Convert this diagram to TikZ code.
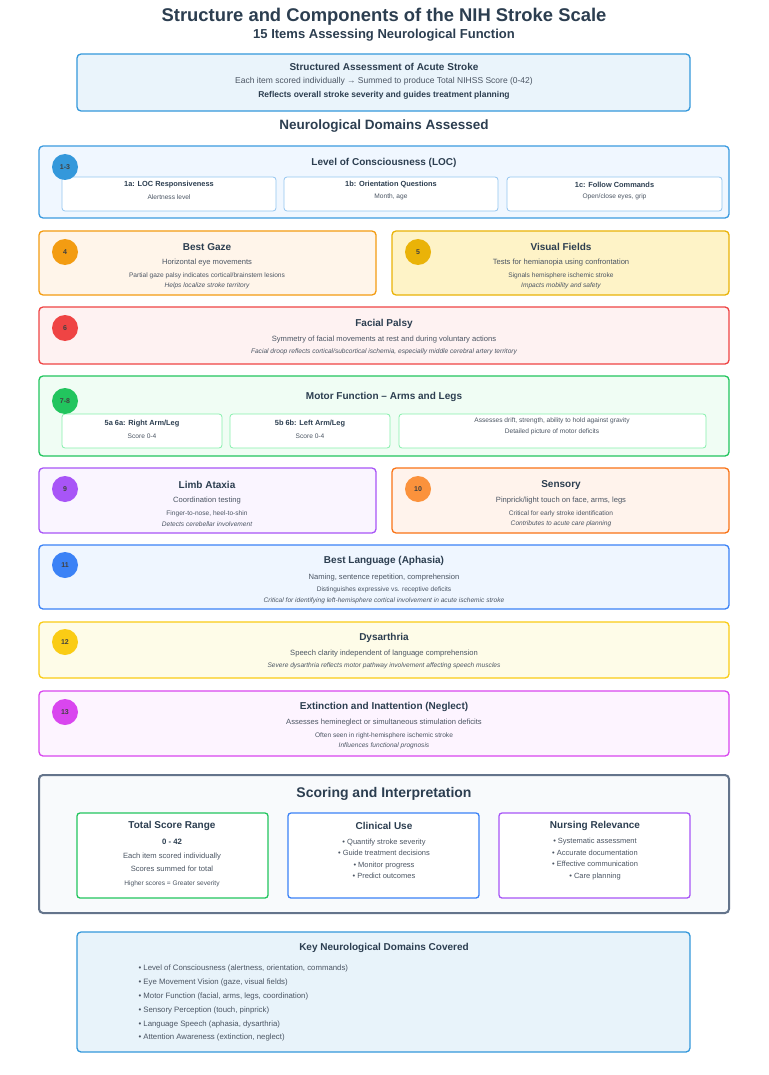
\documentclass[tikz,border=0pt]{standalone}
\usepackage{fontspec}
\setmainfont{Liberation Sans}
\definecolor{tdark}{HTML}{2C3E50}\definecolor{tgray}{HTML}{4B5563}
\definecolor{cA}{HTML}{3498DB}\definecolor{cB}{HTML}{3B9BE0}\definecolor{cBl}{HTML}{93C5F0}
\definecolor{cOr}{HTML}{F39C12}\definecolor{cYe}{HTML}{EAB308}\definecolor{cRe}{HTML}{EF4444}
\definecolor{cGr}{HTML}{22C55E}\definecolor{cGl}{HTML}{86EFAC}\definecolor{cPu}{HTML}{A855F7}
\definecolor{cOa}{HTML}{F97316}\definecolor{cOb}{HTML}{FB923C}\definecolor{cBu}{HTML}{3B82F6}
\definecolor{cY2}{HTML}{FACC15}\definecolor{cMa}{HTML}{D946EF}\definecolor{cSl}{HTML}{64748B}
\begin{document}
\begin{tikzpicture}[x=1pt,y=-1pt,
 box/.style={draw=#1,line width=1.3pt,rounded corners=4pt},
 sub/.style={draw=#1,line width=0.8pt,rounded corners=3pt,fill=white},
 num/.style={circle,fill=#1,minimum size=26pt,inner sep=0pt,font=\fontsize{7}{8}\selectfont\bfseries,text=black!75},
 ttl/.style={font=\fontsize{10}{11}\selectfont\bfseries,text=tdark},
 txt/.style={font=\fontsize{7.6}{8.6}\selectfont,text=tgray},
 sm/.style={font=\fontsize{6.6}{7.6}\selectfont,text=tgray},
 it/.style={font=\fontsize{6.6}{7.6}\selectfont\itshape,text=tgray},
 stt/.style={font=\fontsize{7.4}{8.4}\selectfont\bfseries,text=tdark}]
\useasboundingbox[fill=white] (0,0) rectangle (768,1075);
\node[font=\fontsize{18.4}{20}\selectfont\bfseries,text=tdark] (t1) at (384,17) {Structure and Components of the NIH Stroke Scale};
\node[font=\fontsize{13}{14}\selectfont\bfseries,text=tdark] (t2) at (384,35) {15 Items Assessing Neurological Function};
% top
\draw[box=cA,fill={rgb,255:red,234;green,244;blue,251}] (77,54) rectangle (690,111);
\node[ttl] (a1) at (384,67) {Structured Assessment of Acute Stroke};
\node[txt,font=\fontsize{8.5}{9.5}\selectfont] (a2) at (384,81) {Each item scored individually → Summed to produce Total NIHSS Score (0-42)};
\node[txt,font=\fontsize{8.5}{9.5}\selectfont\bfseries,text=tdark] (a3) at (384,95) {Reflects overall stroke severity and guides treatment planning};
\node[font=\fontsize{13.5}{15}\selectfont\bfseries,text=tdark] (nd) at (384,126) {Neurological Domains Assessed};
% LOC
\draw[box=cB,fill={rgb,255:red,240;green,247;blue,255}] (39,146) rectangle (729,218);
\node[ttl] (loc) at (384,163) {Level of Consciousness (LOC)};
\foreach \a/\b/\t/\s [count=\i] in {62/276/1a: LOC Responsiveness/Alertness level,284/498/1b: Orientation Questions/{Month, age},507/722/1c: Follow Commands/{Open/close eyes, grip}}{
 \draw[sub=cBl] (\a,177) rectangle (\b,211);
 \node[stt] (l\i) at ({(\a+\b)/2},185) {\t};
 \node[sm] (ls\i) at ({(\a+\b)/2},197) {\s};}
\node[num=cA] (c1) at (65,167) {1-3};
% gaze
\draw[box=cOr,fill={rgb,255:red,255;green,245;blue,234}] (39,231) rectangle (376,295);
\node[num=cOr] (c4) at (65,252) {4};
\node[ttl] (g1) at (207,247) {Best Gaze};
\node[txt] (g2) at (207,263) {Horizontal eye movements};
\node[sm] (g3) at (207,276) {Partial gaze palsy indicates cortical/brainstem lesions};
\node[it] (g4) at (207,286) {Helps localize stroke territory};
\draw[box=cYe,fill={rgb,255:red,254;green,243;blue,199}] (392,231) rectangle (729,295);
\node[num=cYe] (c5) at (418,252) {5};
\node[ttl] (v1) at (561,247) {Visual Fields};
\node[txt] (v2) at (561,263) {Tests for hemianopia using confrontation};
\node[sm] (v3) at (561,276) {Signals hemisphere ischemic stroke};
\node[it] (v4) at (561,286) {Impacts mobility and safety};
% facial
\draw[box=cRe,fill={rgb,255:red,254;green,242;blue,242}] (39,307) rectangle (729,364);
\node[num=cRe] (c6) at (65,328) {6};
\node[ttl] (f1) at (384,324) {Facial Palsy};
\node[txt] (f2) at (384,340) {Symmetry of facial movements at rest and during voluntary actions};
\node[it] (f3) at (384,352) {Facial droop reflects cortical/subcortical ischemia, especially middle cerebral artery territory};
% motor
\draw[box=cGr,fill={rgb,255:red,240;green,253;blue,244}] (39,376) rectangle (729,456);
\node[ttl] (m1) at (384,397) {Motor Function – Arms and Legs};
\draw[sub=cGl] (62,414) rectangle (222,448);
\draw[sub=cGl] (230,414) rectangle (390,448);
\draw[sub=cGl] (399,414) rectangle (706,448);
\node[stt] (m2) at (142,424) {5a 6a: Right Arm/Leg};
\node[sm] (m3) at (142,436) {Score 0-4};
\node[stt] (m4) at (310,424) {5b 6b: Left Arm/Leg};
\node[sm] (m5) at (310,436) {Score 0-4};
\node[sm] (m6) at (552,421) {Assesses drift, strength, ability to hold against gravity};
\node[sm] (m7) at (552,432) {Detailed picture of motor deficits};
\node[num=cGr] (c7) at (65,401) {7-8};
% limb / sensory
\draw[box=cPu,fill={rgb,255:red,250;green,245;blue,255}] (39,468) rectangle (376,533);
\node[num=cPu] (c9) at (65,489) {9};
\node[ttl] (b1) at (207,485) {Limb Ataxia};
\node[txt] (b2) at (207,501) {Coordination testing};
\node[sm] (b3) at (207,514) {Finger-to-nose, heel-to-shin};
\node[it] (b4) at (207,524) {Detects cerebellar involvement};
\draw[box=cOa,fill={rgb,255:red,255;green,243;blue,236}] (392,468) rectangle (729,533);
\node[num=cOb] (c10) at (418,489) {10};
\node[ttl] (s1) at (561,485) {Sensory};
\node[txt] (s2) at (561,501) {Pinprick/light touch on face, arms, legs};
\node[sm] (s3) at (561,514) {Critical for early stroke identification};
\node[it] (s4) at (561,524) {Contributes to acute care planning};
% language
\draw[box=cBu,fill={rgb,255:red,239;green,246;blue,255}] (39,545) rectangle (729,609);
\node[num=cBu] (c11) at (65,565) {11};
\node[ttl] (la1) at (384,561) {Best Language (Aphasia)};
\node[txt] (la2) at (384,578) {Naming, sentence repetition, comprehension};
\node[sm] (la3) at (384,590) {Distinguishes expressive vs. receptive deficits};
\node[it] (la4) at (384,601) {Critical for identifying left-hemisphere cortical involvement in acute ischemic stroke};
% dysarthria
\draw[box=cY2,fill={rgb,255:red,254;green,252;blue,232}] (39,622) rectangle (729,678);
\node[num=cY2] (c12) at (65,642) {12};
\node[ttl] (d1) at (384,638) {Dysarthria};
\node[txt] (d2) at (384,654) {Speech clarity independent of language comprehension};
\node[it] (d3) at (384,666) {Severe dysarthria reflects motor pathway involvement affecting speech muscles};
% extinction
\draw[box=cMa,fill={rgb,255:red,253;green,244;blue,255}] (39,691) rectangle (729,756);
\node[num=cMa] (c13) at (65,712) {13};
\node[ttl] (e1) at (384,707) {Extinction and Inattention (Neglect)};
\node[txt] (e2) at (384,723) {Assesses hemineglect or simultaneous stimulation deficits};
\node[sm] (e3) at (384,736) {Often seen in right-hemisphere ischemic stroke};
\node[it] (e4) at (384,746) {Influences functional prognosis};
% scoring
\draw[box=cSl,line width=2pt,fill={rgb,255:red,248;green,250;blue,252}] (39,775) rectangle (729,913);
\node[font=\fontsize{14}{15}\selectfont\bfseries,text=tdark] (sc) at (384,794) {Scoring and Interpretation};
\draw[sub=cGr,line width=1.3pt] (77,813) rectangle (268,898);
\draw[sub=cBu,line width=1.3pt] (288,813) rectangle (479,898);
\draw[sub=cPu,line width=1.3pt] (499,813) rectangle (690,898);
\node[ttl] (x1) at (172,826) {Total Score Range};
\node[txt,font=\fontsize{7.8}{8.8}\selectfont\bfseries,text=tdark] (x2) at (172,842) {0 - 42};
\node[txt] (x3) at (172,857) {Each item scored individually};
\node[txt] (x4) at (172,869) {Scores summed for total};
\node[sm] (x5) at (172,884) {Higher scores = Greater severity};
\node[ttl] (y1) at (384,826) {Clinical Use};
\node[txt,align=center,font=\fontsize{7.5}{11.5}\selectfont] (y2) at (384,859) {• Quantify stroke severity\\• Guide treatment decisions\\• Monitor progress\\• Predict outcomes};
\node[ttl] (z1) at (595,826) {Nursing Relevance};
\node[txt,align=center,font=\fontsize{7.5}{11.5}\selectfont] (z2) at (595,859) {• Systematic assessment\\• Accurate documentation\\• Effective communication\\• Care planning};
% key
\draw[box=cA,fill={rgb,255:red,232;green,243;blue,250}] (77,932) rectangle (690,1052);
\node[ttl] (k0) at (384,948) {Key Neurological Domains Covered};
\foreach \t [count=\i] in {{Level of Consciousness (alertness, orientation, commands)},{Eye Movement Vision (gaze, visual fields)},{Motor Function (facial, arms, legs, coordination)},{Sensory Perception (touch, pinprick)},{Language Speech (aphasia, dysarthria)},{Attention Awareness (extinction, neglect)}}
 \node[txt,anchor=west,font=\fontsize{7.8}{8.8}\selectfont] (k\i) at (135,{955+13.8*\i}) {• \t};
\end{tikzpicture}
\end{document}
